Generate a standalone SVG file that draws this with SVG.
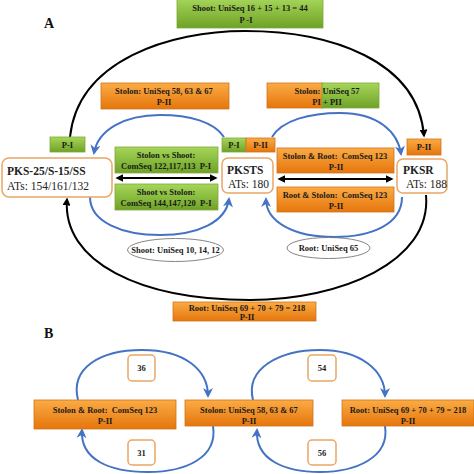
<svg xmlns="http://www.w3.org/2000/svg" width="474" height="474" viewBox="0 0 474 474">
<defs>
<linearGradient id="gG" x1="0" y1="0" x2="0" y2="1"><stop offset="0" stop-color="#a6d65a"/><stop offset="1" stop-color="#6ea226"/></linearGradient>
<linearGradient id="gO" x1="0" y1="0" x2="0" y2="1"><stop offset="0" stop-color="#fbab45"/><stop offset="1" stop-color="#e5760c"/></linearGradient>
<marker id="ab" viewBox="0 0 10 10" refX="8" refY="5" markerWidth="10" markerHeight="10" markerUnits="userSpaceOnUse" orient="auto"><path d="M0,0 L10,5 L0,10 L3,5 Z" fill="#4472c4"/></marker>
<marker id="ak" viewBox="0 0 10 10" refX="8" refY="5" markerWidth="8" markerHeight="8" markerUnits="userSpaceOnUse" orient="auto"><path d="M0,0 L10,5 L0,10 Z" fill="#000"/></marker>
<marker id="aks" viewBox="0 0 10 10" refX="2" refY="5" markerWidth="8" markerHeight="8" markerUnits="userSpaceOnUse" orient="auto"><path d="M10,0 L0,5 L10,10 Z" fill="#000"/></marker>
<style>
.g{fill:url(#gG);stroke:#7fa93a;stroke-width:0.8}
.o{fill:url(#gO);stroke:#d0741a;stroke-width:0.8}
.n{fill:#fff;stroke:#e9a766;stroke-width:1.5}
.t{font-family:"Liberation Serif","Times New Roman",serif;font-weight:bold;font-size:8.5px;fill:#1a1a1a;text-anchor:middle;white-space:pre}
.big{font-family:"Liberation Serif","Times New Roman",serif;font-size:11.5px;fill:#222}
.bl{fill:none;stroke:#4472c4;stroke-width:2}
.bk{fill:none;stroke:#000;stroke-width:2}
.lab{font-family:"Liberation Serif","Times New Roman",serif;font-weight:bold;font-size:14px;fill:#111}
</style>
</defs>
<rect width="474" height="474" fill="#fff"/>
<text class="lab" x="44" y="28">A</text>
<text class="lab" x="44" y="338">B</text>

<g id="connectors">
<path class="bk" d="M70,137 C78,60 170,31 245,31 C330,31 418,60 424,136" marker-end="url(#ak)"/>
<path class="bk" d="M426,195 C432,262 340,300 250,300 C140,300 62,262 67,199" marker-end="url(#ak)"/>
<path class="bl" d="M224,137 C214,122 190,115 160,115 C124,115 98,130 94,153" marker-end="url(#ab)"/>
<path class="bl" d="M272,137 C282,120 310,113 340,113 C378,113 398,132 401,154" marker-end="url(#ab)"/>
<path class="bl" d="M90,197 C90,222 122,235 160,235 C198,235 226,222 229,199" marker-end="url(#ab)"/>
<path class="bl" d="M402,197 C402,224 372,237 334,237 C294,237 266,222 266,199" marker-end="url(#ab)"/>
<path class="bk" d="M117,178 L216,178" marker-start="url(#aks)" marker-end="url(#ak)"/>
<path class="bk" d="M279,179 L392,179" marker-start="url(#aks)" marker-end="url(#ak)"/>
<path class="bl" d="M78,400 C70,368 100,350 142,350 C185,350 208,370 208,396" marker-end="url(#ab)"/>
<path class="bl" d="M213,426 C218,458 185,472 148,472 C110,472 80,460 82,430" marker-end="url(#ab)"/>
<path class="bl" d="M253,400 C245,368 280,350 320,350 C360,350 385,370 385,396" marker-end="url(#ab)"/>
<path class="bl" d="M385,426 C390,458 355,472 320,472 C285,472 255,460 257,430" marker-end="url(#ab)"/>
</g>

<g id="shoot-top"><rect class="g" x="177" y="-2" width="146" height="30"/><text class="t" x="250" y="11">Shoot: UniSeq 16 + 15 + 13 = 44</text><text class="t" x="246" y="23">P -I</text></g>
<g id="stolon-58"><rect class="o" x="101" y="83" width="128" height="26"/><text class="t" x="164" y="94">Stolon: UniSeq 58, 63 &amp; 67</text><text class="t" x="164" y="105">P-II</text></g>
<g id="stolon-57"><rect class="o" x="267" y="83" width="56" height="25"/><rect class="g" x="322" y="83" width="57" height="25"/><text class="t" x="327" y="94">Stolon: UniSeq 57</text><text class="t" x="327" y="105">PI + PII</text></g>

<g id="p1-left"><rect class="g" x="50" y="137" width="35" height="15"/><text class="t" x="67.5" y="148">P-I</text></g>
<g id="p1-mid"><rect class="g" x="222" y="138" width="24" height="14"/><text class="t" x="234" y="148">P-I</text></g>
<g id="p2-mid"><rect class="o" x="246" y="138" width="29" height="14"/><text class="t" x="260.5" y="148">P-II</text></g>
<g id="p2-right"><rect class="o" x="407" y="139" width="34" height="16"/><text class="t" x="424" y="150">P-II</text></g>

<g id="pks25"><rect class="n" x="2" y="158" width="110" height="39" rx="7"/><text class="big" x="7" y="175" font-weight="bold">PKS-25/S-15/SS</text><text class="big" x="7" y="190">ATs: 154/161/132</text></g>
<g id="pksts"><rect class="n" x="222" y="158" width="51" height="35" rx="6"/><text class="big" x="227" y="174" font-weight="bold">PKSTS</text><text class="big" x="228" y="188">ATs: 180</text></g>
<g id="pksr"><rect class="n" x="397" y="159" width="50" height="34" rx="6"/><text class="big" x="403" y="174" font-weight="bold">PKSR</text><text class="big" x="406" y="188">ATs: 188</text></g>

<g id="stolon-vs-shoot"><rect class="g" x="115" y="147" width="103" height="26"/><text class="t" x="166" y="158">Stolon vs Shoot:</text><text class="t" x="166" y="169">ComSeq 122,117,113  P-I</text></g>
<g id="shoot-vs-stolon"><rect class="g" x="115" y="184" width="103" height="26"/><text class="t" x="166" y="195">Shoot vs Stolon:</text><text class="t" x="166" y="206">ComSeq 144,147,120  P-I</text></g>
<g id="stolon-root"><rect class="o" x="277" y="148" width="117" height="25"/><text class="t" x="335" y="159">Stolon &amp; Root:  ComSeq 123</text><text class="t" x="336" y="170">P-II</text></g>
<g id="root-stolon"><rect class="o" x="277" y="187" width="117" height="25"/><text class="t" x="335" y="198">Root &amp; Stolon:  ComSeq 123</text><text class="t" x="336" y="209">P-II</text></g>

<g id="shoot-uniseq"><ellipse cx="175.5" cy="250" rx="48" ry="11.5" fill="#fff" stroke="#666" stroke-width="0.8"/><text class="t" x="175.5" y="253">Shoot: UniSeq 10, 14, 12</text></g>
<g id="root-uniseq"><ellipse cx="328.5" cy="248" rx="41.5" ry="10.5" fill="#fff" stroke="#666" stroke-width="0.8"/><text class="t" x="328.5" y="251">Root: UniSeq 65</text></g>

<g id="root-bottom"><rect class="o" x="173" y="302" width="143" height="19"/><text class="t" x="247" y="311">Root: UniSeq 69 + 70 + 79 = 218</text><text class="t" x="247" y="320">P-II</text></g>

<g id="b-stolon-root"><rect class="o" x="34" y="400" width="142" height="29"/><text class="t" x="105" y="413">Stolon &amp; Root:  ComSeq 123</text><text class="t" x="105" y="424">P-II</text></g>
<g id="b-stolon"><rect class="o" x="185" y="400" width="128" height="26"/><text class="t" x="249" y="413">Stolon: UniSeq 58, 63 &amp; 67</text><text class="t" x="249" y="424">P-II</text></g>
<g id="b-root"><rect class="o" x="342" y="400" width="132" height="26"/><text class="t" x="408" y="413">Root: UniSeq 69 + 70 + 79 = 218</text><text class="t" x="408" y="424">P-II</text></g>

<g id="n36"><rect class="n" x="128" y="355" width="27" height="26" rx="4"/><text class="t" x="141.5" y="371">36</text></g>
<g id="n31"><rect class="n" x="128" y="440" width="27" height="25" rx="4"/><text class="t" x="141.5" y="456">31</text></g>
<g id="n54"><rect class="n" x="308" y="355" width="28" height="26" rx="4"/><text class="t" x="322" y="371">54</text></g>
<g id="n56"><rect class="n" x="308" y="440" width="28" height="25" rx="4"/><text class="t" x="322" y="456">56</text></g>
</svg>
